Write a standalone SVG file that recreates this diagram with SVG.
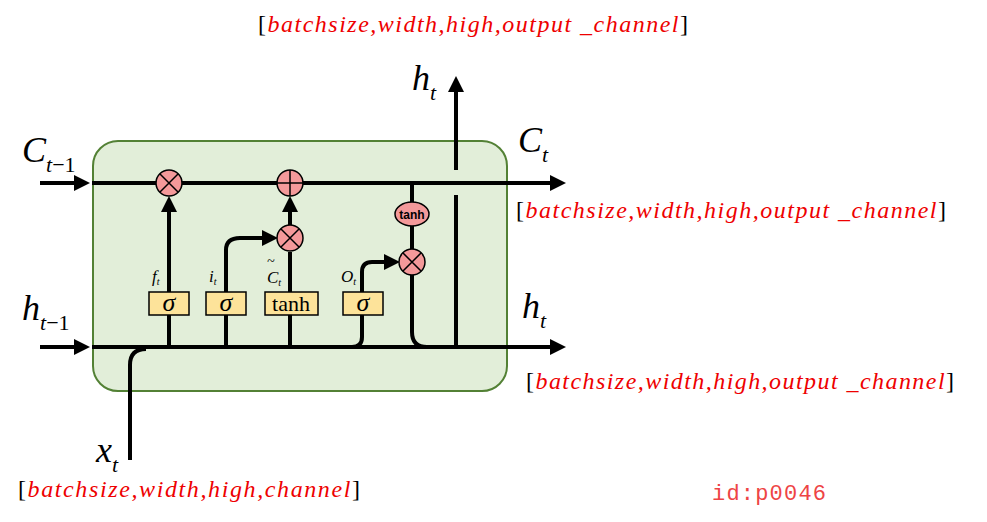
<svg xmlns="http://www.w3.org/2000/svg" width="987" height="522" viewBox="0 0 987 522">
<defs>
<marker id="ah" markerWidth="4" markerHeight="4" refX="2.5" refY="2" orient="auto" markerUnits="strokeWidth"><path d="M0,0 L4,2 L0,4 z" fill="#000"/></marker>
<style>
.l{fill:none;stroke:#000;stroke-width:4}
.op{fill:#f4999a;stroke:#000;stroke-width:1.5}
.x{stroke:#000;stroke-width:1.5}
.box{fill:#fde39a;stroke:#000;stroke-width:1.5}
.dim{font-family:"Liberation Serif",serif;font-size:24px;fill:#000}
.dim tspan{fill:#e00;font-style:italic}
.var{font-family:"Liberation Serif",serif;font-style:italic;fill:#000}
.g{font-family:"Liberation Serif",serif;font-size:26px;font-style:italic}
</style>
</defs>
<rect width="987" height="522" fill="#fff"/>
<g id="cell"><rect x="93" y="141" width="414" height="250" rx="25" fill="#e2eed9" stroke="#538135" stroke-width="2"/></g>
<g id="connectors">
<path class="l" d="M40,183 H84" marker-end="url(#ah)"/>
<path class="l" d="M92,183 H560" marker-end="url(#ah)"/>
<path class="l" d="M40,347 H84" marker-end="url(#ah)"/>
<path class="l" d="M92,347 H560" marker-end="url(#ah)"/>
<path class="l" d="M130,460 V365 Q130,349 146,349"/>
<path class="l" d="M169,347 V202" marker-end="url(#ah)"/>
<path class="l" d="M226,347 V250 Q226,238 240,238 H272" marker-end="url(#ah)"/>
<path class="l" d="M290,347 V252"/>
<path class="l" d="M290,225 V202" marker-end="url(#ah)"/>
<path class="l" d="M352,347 Q362,347 362,337 V272 Q362,262 372,262 H394" marker-end="url(#ah)"/>
<path class="l" d="M412,183 V275"/>
<path class="l" d="M412,275 V332 Q412,347 427,347"/>
<path class="l" d="M456,347 V195"/>
<path class="l" d="M456,170 V82" marker-end="url(#ah)"/>
</g>
<g id="forget"><circle class="op" cx="169" cy="183" r="13"/><path class="x" d="M160,174 L178,192 M178,174 L160,192"/></g>
<g id="add"><circle class="op" cx="290" cy="183" r="13"/><path class="x" d="M277,183 H303 M290,170 V196"/></g>
<g id="mulin"><circle class="op" cx="290" cy="238" r="13"/><path class="x" d="M281,229 L299,247 M299,229 L281,247"/></g>
<g id="mulout"><circle class="op" cx="412" cy="262" r="13"/><path class="x" d="M403,253 L421,271 M421,253 L403,271"/></g>
<g id="tanh2"><ellipse class="op" cx="412" cy="214" rx="17" ry="12"/><text x="412" y="218.5" text-anchor="middle" font-family="Liberation Sans,sans-serif" font-weight="bold" font-size="12">tanh</text></g>
<g id="sig1"><rect class="box" x="149" y="292" width="40" height="23"/><text x="169" y="311" text-anchor="middle" class="g">σ</text></g>
<g id="sig2"><rect class="box" x="206" y="292" width="40" height="23"/><text x="226" y="311" text-anchor="middle" class="g">σ</text></g>
<g id="tanh1"><rect class="box" x="265" y="292" width="53" height="23"/><text x="291" y="311" text-anchor="middle" font-family="Liberation Serif,serif" font-size="22">tanh</text></g>
<g id="sig3"><rect class="box" x="343" y="292" width="40" height="23"/><text x="363" y="311" text-anchor="middle" class="g">σ</text></g>
<g id="labels">
<text class="var" x="152" y="282" font-size="17">f<tspan font-size="10" dy="3">t</tspan></text>
<text class="var" x="209" y="282" font-size="17">i<tspan font-size="10" dy="3">t</tspan></text>
<text class="var" x="267" y="283" font-size="17">C<tspan font-size="10" dy="3">t</tspan></text>
<text class="var" x="267" y="266" font-size="14">~</text>
<text class="var" x="341" y="282" font-size="17">O<tspan font-size="10" dy="3">t</tspan></text>
<text class="var" x="22" y="162" font-size="36">C<tspan font-size="22" dy="10">t</tspan><tspan font-size="22" font-style="normal">−1</tspan></text>
<text class="var" x="22" y="320" font-size="36">h<tspan font-size="22" dy="10">t</tspan><tspan font-size="22" font-style="normal">−1</tspan></text>
<text class="var" x="412" y="90" font-size="36">h<tspan font-size="22" dy="10">t</tspan></text>
<text class="var" x="518" y="152" font-size="36">C<tspan font-size="22" dy="10">t</tspan></text>
<text class="var" x="522" y="318" font-size="36">h<tspan font-size="22" dy="10">t</tspan></text>
<text class="var" x="96" y="462" font-size="36">x<tspan font-size="22" dy="10">t</tspan></text>
<text class="dim" x="258" y="32" textLength="430" lengthAdjust="spacing">[<tspan>batchsize,width,high,output _channel</tspan>]</text>
<text class="dim" x="516" y="218" textLength="430" lengthAdjust="spacing">[<tspan>batchsize,width,high,output _channel</tspan>]</text>
<text class="dim" x="526" y="389" textLength="428" lengthAdjust="spacing">[<tspan>batchsize,width,high,output _channel</tspan>]</text>
<text class="dim" x="18" y="497" textLength="342" lengthAdjust="spacing">[<tspan>batchsize,width,high,channel</tspan>]</text>
<text x="712" y="500" font-family="Liberation Mono,monospace" font-size="22" fill="#e44" textLength="114">id:p0046</text>
</g>
</svg>
